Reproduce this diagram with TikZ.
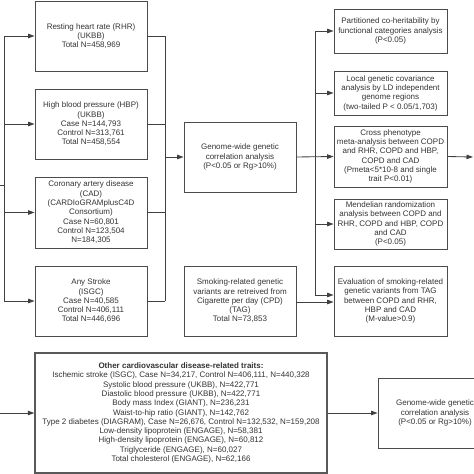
\documentclass[tikz,border=0pt]{standalone}
\usepackage{fontspec}
\setmainfont{Liberation Sans}
\usetikzlibrary{arrows.meta}
\tikzset{
  box/.style={draw=black!70, line width=0.85pt, align=center, inner sep=0pt, text=black!80,
    font=\fontsize{8}{9.3}\selectfont},
  conn/.style={draw=black!75, line width=0.85pt},
  arr/.style={conn, -{Triangle[length=6.5pt,width=4.5pt]}}
}
\begin{document}
\begin{tikzpicture}[x=1pt,y=-1pt]
\useasboundingbox (0,0) rectangle (474,474);
\clip (0,0) rectangle (474,474);
% left column
\node[box, minimum width=112pt, minimum height=70pt] (rhr) at (91,36) {Resting heart rate (RHR)\\(UKBB)\\Total N=458,969};
\node[box, minimum width=112pt, minimum height=70pt] (hbp) at (91,124) {High blood pressure (HBP)\\(UKBB)\\Case N=144,793\\Control N=313,761\\Total N=458,554};
\node[box, minimum width=112pt, minimum height=71pt] (cad) at (91,212.5) {Coronary artery disease\\(CAD)\\(CARDIoGRAMplusC4D\\Consortium)\\Case N=60,801\\Control N=123,504\\N=184,305};
\node[box, minimum width=112pt, minimum height=70pt] (stroke) at (91,301) {Any Stroke\\(ISGC)\\Case N=40,585\\Control N=406,111\\Total N=446,696};
% middle column
\node[box, minimum width=112pt, minimum height=70pt] (gw) at (240,157) {Genome-wide genetic\\correlation analysis\\(P<0.05 or Rg>10\%)};
\node[box, minimum width=112pt, minimum height=70pt] (smk) at (240,301) {Smoking-related genetic\\variants are retreived from\\Cigarette per day (CPD)\\(TAG)\\Total N=73,853};
% right column
\node[box, minimum width=113pt, minimum height=44pt] (part) at (390.5,31) {Partitioned co-heritability by\\functional categories analysis\\(P<0.05)};
\node[box, minimum width=113pt, minimum height=44pt] (local) at (390.5,93) {Local genetic covariance\\analysis by LD independent\\genome regions\\(two-tailed P < 0.05/1,703)};
\node[box, minimum width=113pt, minimum height=61pt] (cross) at (390.5,156.5) {Cross phenotype\\meta-analysis between COPD\\and RHR, COPD and HBP,\\COPD and CAD\\(Pmeta<5*10-8 and single\\trait P<0.01)};
\node[box, minimum width=113pt, minimum height=50pt] (mr) at (390.5,224) {Mendelian randomization\\analysis between COPD and\\RHR, COPD and HBP, COPD\\and CAD\\(P<0.05)};
\node[box, minimum width=113pt, minimum height=70pt] (evals) at (390.5,301) {Evaluation of smoking-related\\genetic variants from TAG\\between COPD and RHR,\\HBP and CAD\\(M-value>0.9)};
% bottom row
\node[box, draw=black!65, line width=1.4pt, minimum width=292pt, minimum height=120pt] (other) at (181,413) {\textbf{Other cardiovascular disease-related traits:}\\Ischemic stroke (ISGC), Case N=34,217, Control N=406,111, N=440,328\\Systolic blood pressure (UKBB), N=422,771\\Diastolic blood pressure (UKBB), N=422,771\\Body mass Index (GIANT), N=236,231\\Waist-to-hip ratio (GIANT), N=142,762\\Type 2 diabetes (DIAGRAM), Case N=26,676, Control N=132,532, N=159,208\\Low-density lipoprotein (ENGAGE), N=58,381\\High-density lipoprotein (ENGAGE), N=60,812\\Triglyceride (ENGAGE), N=60,027\\Total cholesterol (ENGAGE), N=62,166};
\node[box, minimum width=114pt, minimum height=70pt] (gw2) at (435,413) {Genome-wide genetic\\correlation analysis\\(P<0.05 or Rg>10\%)};
% coordinates
\coordinate (in1) at (0,185);
\coordinate (lt) at (4,36);
\coordinate (lb) at (4,301);
\coordinate (lm) at (4,185);
\coordinate (l2) at (4,124);
\coordinate (l3) at (4,212.5);
\coordinate (mt) at (165,36);
\coordinate (m2) at (165,124);
\coordinate (m3) at (165,212.5);
\coordinate (mb) at (165,301);
\coordinate (mc) at (165,157);
\coordinate (rt) at (315,31);
\coordinate (r2) at (315,93);
\coordinate (r4) at (315,224);
\coordinate (rb) at (315,295);
\coordinate (out) at (473,157);
\coordinate (in2) at (0,413);
% left trunk
\draw[conn] (lt) -- (lb);
\draw[conn] (in1) -- (lm);
\draw[arr] (lt) -- (rhr.west);
\draw[arr] (l2) -- (hbp.west);
\draw[arr] (l3) -- (cad.west);
\draw[arr] (lb) -- (stroke.west);
% middle trunk
\draw[conn] (mt) -- (mb);
\draw[conn] (rhr.east) -- (mt);
\draw[conn] (hbp.east) -- (m2);
\draw[conn] (cad.east) -- (m3);
\draw[conn] (stroke.east) -- (mb);
\draw[arr] (mc) -- (gw.west);
% right trunk
\draw[conn] (rt) -- (rb);
\draw[arr] (rt) -- (part.west);
\draw[arr] (r2) -- (local.west);
\draw[arr] (gw.east) -- (cross.west);
\draw[arr] (r4) -- (mr.west);
\draw[arr] (rb) -- (rb -| evals.west);
\draw[arr] (smk.east |- 0,302) -- (evals.west |- 0,302);
\draw[arr] (cross.east) -- (out);
% bottom
\draw[arr] (in2) -- (other.west);
\draw[arr] (other.east) -- (gw2.west);
\end{tikzpicture}
\end{document}
